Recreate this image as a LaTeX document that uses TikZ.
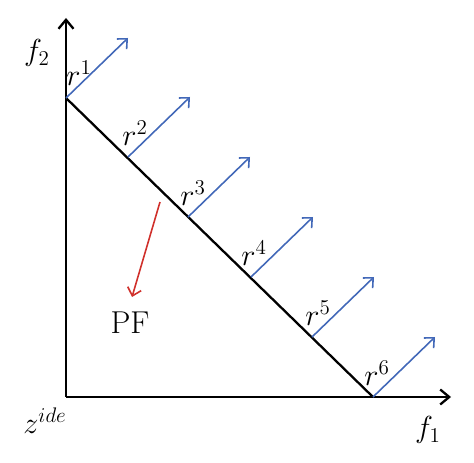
\documentclass[tikz,border=0pt]{standalone}
\usepackage{amsmath}
\usetikzlibrary{arrows.meta}
\definecolor{rayBlue}{RGB}{66,104,184}
\definecolor{pfRed}{RGB}{208,48,43}
\tikzstyle{fAxis} = [line width=1.3pt, -{Straight Barb[length=1.8mm,width=3mm]}]
\tikzstyle{fFront} = [line width=1.3pt]
\tikzstyle{fRay} = [rayBlue, line width=0.9pt, -{Straight Barb[length=1.5mm,width=2.8mm]}]
\tikzstyle{fPF} = [pfRed, line width=0.9pt, -{Straight Barb[length=1.5mm,width=2.8mm]}]
\tikzstyle{fLabel} = [inner sep=0pt, font=\fontsize{18}{21}\selectfont]

\begin{document}
\begin{tikzpicture}[x=0.2mm, y=-0.2mm, node distance=4.8mm]
    \useasboundingbox (0,0) rectangle (474,463);
    \coordinate (zide) at (66,397);
    \coordinate (f2top) at (66,18);
    \coordinate (f1end) at (451,397);
    \coordinate (p1) at (66,98);
    \coordinate (p2) at (128,157);
    \coordinate (p3) at (188,217);
    \coordinate (p4) at (251,277);
    \coordinate (p5) at (312,337);
    \coordinate (p6) at (373,397);
    \coordinate (t1) at (128,38);
    \coordinate (t2) at (190,97);
    \coordinate (t3) at (250,157);
    \coordinate (t4) at (313,217);
    \coordinate (t5) at (374,277);
    \coordinate (t6) at (435,337);
    \coordinate (pfStart) at (160,202);
    \coordinate (pfEnd) at (132,297);

    \node (f2) [fLabel] at (37,53) {$f_2$};
    \node (f1) [fLabel] at (428,430) {$f_1$};
    \node (zlabel) [fLabel] at (45,421) {$z^{ide}$};
    \node (pf) [fLabel] at (130,323) {PF};
    \node (r1) [fLabel, above of=p1, xshift=2.6mm, yshift=0.2mm] {$r^1$};
    \node (r2) [fLabel, above of=p2, xshift=1.4mm] {$r^2$};
    \node (r3) [fLabel, above of=p3, xshift=1mm] {$r^3$};
    \node (r4) [fLabel, above of=p4, xshift=0.6mm] {$r^4$};
    \node (r5) [fLabel, above of=p5, xshift=1.2mm] {$r^5$};
    \node (r6) [fLabel, above of=p6, xshift=0.8mm] {$r^6$};

    \draw [fAxis] (zide) -- (f2top);
    \draw [fAxis] (zide) -- (f1end);
    \draw [fFront] (p1) -- (p6);
    \draw [fRay] (p1) -- (t1);
    \draw [fRay] (p2) -- (t2);
    \draw [fRay] (p3) -- (t3);
    \draw [fRay] (p4) -- (t4);
    \draw [fRay] (p5) -- (t5);
    \draw [fRay] (p6) -- (t6);
    \draw [fPF] (pfStart) -- (pfEnd);
\end{tikzpicture}
\end{document}
